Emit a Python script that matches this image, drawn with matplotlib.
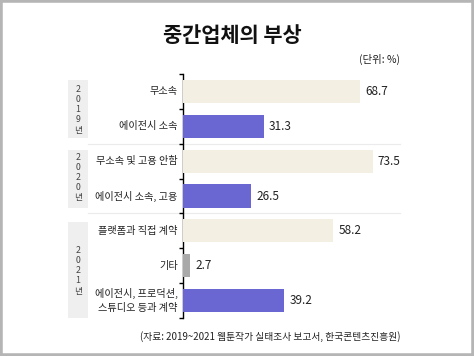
import matplotlib
matplotlib.use("Agg")
import matplotlib.pyplot as plt
from matplotlib.patches import Rectangle
from matplotlib.transforms import blended_transform_factory

plt.rcParams['font.family'] = ['Noto Sans CJK KR', 'DejaVu Sans']

title = "중간업체의 부상"
unit = "(단위: %)"
source = "(자료: 2019~2021 웹툰작가 실태조사 보고서, 한국콘텐츠진흥원)"
categories = ["무소속", "에이전시 소속", "무소속 및 고용 안함", "에이전시 소속, 고용",
              "플랫폼과 직접 계약", "기타", "에이전시, 프로덕션,\n스튜디오 등과 계약"]
values = [68.7, 31.3, 73.5, 26.5, 58.2, 2.7, 39.2]
kinds = ["none", "agency", "none", "agency", "none", "other", "agency"]
years = ["2019년", "2020년", "2021년"]
year_spans = [(-0.33, 1.33), (1.67, 3.33), (3.75, 6.5)]
year_centers = [0.53, 2.47, 5.15]
separators = [1.5, 3.5]

colors = {"none": "#F4EFE3", "agency": "#6A66D2", "other": "#A9A9A9"}

W, H = 474, 356
fig = plt.figure(figsize=(W / 100, H / 100), dpi=100)
fig.patch.set_facecolor("white")

ax = fig.add_axes([183 / W, 1 - 318 / H, (400 - 183) / W, (318 - 74) / H])
pos = list(range(len(categories)))
ax.barh(pos, values, height=0.66, color=[colors[k] for k in kinds], zorder=3)
ax.set_ylim(len(categories) - 0.5, -0.5)
ax.set_xlim(0, 84.1)
for p, v in zip(pos, values):
    ax.text(v + 2.0, p, f"{v}", va="center", ha="left", fontsize=8.5, color="#222222",
            fontweight="medium")

ax.set_yticks([p - 0.5 for p in pos] + [len(pos) - 0.5])
ax.set_yticklabels([])
ax.tick_params(axis="y", length=3, width=1, direction="out", color="black")
ax.set_xticks([])
for s in ["top", "right", "bottom"]:
    ax.spines[s].set_visible(False)
ax.spines["left"].set_linewidth(1.0)
ax.spines["left"].set_color("black")

for p, c in zip(pos, categories):
    ax.text(-2.0, p, c, ha="right", va="center", fontsize=7.3, color="#222222",
            linespacing=1.5, fontweight="medium")

tr = blended_transform_factory(fig.transFigure, ax.transData)
for s in separators:
    ax.plot([88 / W, 400 / W], [s, s], transform=tr, color="#EBEBEB", lw=0.8,
            clip_on=False, zorder=1)

for (y0, y1), yc, yr in zip(year_spans, year_centers, years):
    ax.add_patch(Rectangle((68 / W, y0), 20 / W, y1 - y0, transform=tr,
                           facecolor="#EFEFEF", edgecolor="none", clip_on=False, zorder=1))
    ax.text(78 / W, yc, "\n".join(list(yr)), transform=tr, ha="center", va="center",
            fontsize=6.3, color="#444444", linespacing=1.15)

fig.text(232 / W, 1 - 35 / H, title, ha="center", va="center", fontsize=15,
         fontweight="bold", color="#111111")
fig.text(400 / W, 1 - 59 / H, unit, ha="right", va="center", fontsize=7.5, color="#222222")
fig.text(400 / W, 1 - 337 / H, source, ha="right", va="center", fontsize=7, color="#222222")

# outer frame
fig.add_artist(Rectangle((0, 0), 1, 1, transform=fig.transFigure, facecolor="none",
                         edgecolor="#B5B5B5", linewidth=4, clip_on=False))

fig.savefig("out.png", dpi=100, facecolor="white")
